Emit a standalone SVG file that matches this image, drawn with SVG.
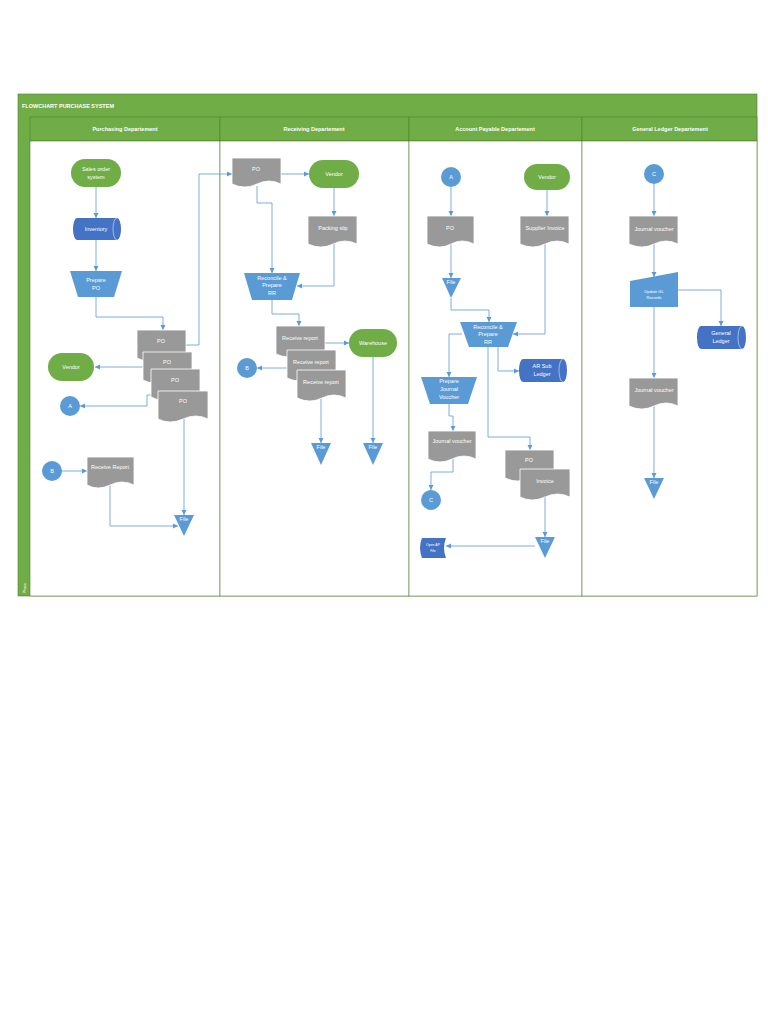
<svg xmlns="http://www.w3.org/2000/svg" width="768" height="1024" viewBox="0 0 768 1024">
<style>
text{font-family:"Liberation Sans",Arial,sans-serif;fill:#fff;font-size:5.5px;text-anchor:middle}
.h{font-size:5.5px;font-weight:bold}
.doc{fill:#999;stroke:#fff;stroke-width:0.8}
.term{fill:#70AD47}
.lb{fill:#5B9BD5}
.db{fill:#4472C4}
.c{fill:none;stroke:#5B9BD5;stroke-width:0.8;marker-end:url(#ar)}
.lane{fill:#fff;stroke:#507E32;stroke-width:0.6}
</style>
<defs>
<marker id="ar" markerWidth="6" markerHeight="6" refX="5" refY="3" orient="auto" markerUnits="userSpaceOnUse"><path d="M0,0.5 L5,3 L0,5.5z" fill="#5B9BD5"/></marker>
</defs>
<rect width="768" height="1024" fill="#fff"/>
<g id="frame">
<rect x="18" y="94" width="739" height="502" fill="#70AD47" stroke="#507E32" stroke-width="0.6"/>
<text x="22" y="108" class="h" style="text-anchor:start">FLOWCHART PURCHASE SYSTEM</text>
<rect x="30" y="117" width="190" height="24" fill="#70AD47" stroke="#507E32" stroke-width="0.6"/>
<rect x="220" y="117" width="189" height="24" fill="#70AD47" stroke="#507E32" stroke-width="0.6"/>
<rect x="409" y="117" width="173" height="24" fill="#70AD47" stroke="#507E32" stroke-width="0.6"/>
<rect x="582" y="117" width="175" height="24" fill="#70AD47" stroke="#507E32" stroke-width="0.6"/>
<text x="125" y="131" class="h">Purchasing Departement</text>
<text x="314" y="131" class="h">Receiving Departement</text>
<text x="495" y="131" class="h">Account Payable Departement</text>
<text x="670" y="131" class="h">General Ledger Departement</text>
<rect x="30" y="141" width="190" height="455" class="lane"/>
<rect x="220" y="141" width="189" height="455" class="lane"/>
<rect x="409" y="141" width="173" height="455" class="lane"/>
<rect x="582" y="141" width="175" height="455" class="lane"/>
<text x="0" y="0" transform="translate(26,593) rotate(-90)" style="font-size:3.5px;text-anchor:start">Phase</text>
</g>
<g id="connectors">
<path class="c" d="M96,187 V218"/>
<path class="c" d="M96,240 V271"/>
<path class="c" d="M96,297 V317 H163 V330"/>
<path class="c" d="M186,345 H199 V174 H232"/>
<path class="c" d="M143,367 H95"/>
<path class="c" d="M151,395 H147 V406 H80"/>
<path class="c" d="M184,418 V515"/>
<path class="c" d="M110,485 V526 H178"/>
<path class="c" d="M62,471 H87"/>
<path class="c" d="M281,174 H309"/>
<path class="c" d="M334,188 V216"/>
<path class="c" d="M257,186 V203 H272 V273"/>
<path class="c" d="M334,244 V286 H297"/>
<path class="c" d="M272,300 V314 H299 V326"/>
<path class="c" d="M325,343 H349"/>
<path class="c" d="M287,368 H257"/>
<path class="c" d="M321,398 V443"/>
<path class="c" d="M373,357 V443"/>
<path class="c" d="M451,187 V216"/>
<path class="c" d="M547,190 V216"/>
<path class="c" d="M451,244 V278"/>
<path class="c" d="M451,298 V310 H489 V322"/>
<path class="c" d="M545,244 V334 H513"/>
<path class="c" d="M462,334 H449 V377"/>
<path class="c" d="M498,346 V371 H519"/>
<path class="c" d="M488,346 V437 H530 V450"/>
<path class="c" d="M449,403 V416 H453 V431"/>
<path class="c" d="M453,458 V472 H431 V490"/>
<path class="c" d="M545,497 V537"/>
<path class="c" d="M535,546 H446"/>
<path class="c" d="M654,184 V216"/>
<path class="c" d="M654,244 V277"/>
<path class="c" d="M678,290 H721 V326"/>
<path class="c" d="M654,307 V378"/>
<path class="c" d="M654,406 V478"/>
</g>
<g id="sales"><rect x="71" y="159" width="50" height="28" rx="14" class="term"/><text x="96" y="171">Sales order</text><text x="96" y="179">system</text></g>
<g id="inventory"><path d="M77,218 H117 A4,11 0 0 1 117,240 H77 A4,11 0 0 1 77,218z" class="db"/><path d="M117,218 A4,11 0 0 0 117,240" fill="none" stroke="#fff" stroke-width="0.5"/><text x="96" y="231">Inventory</text></g>
<g id="preparePO"><path d="M70,271 H122 L114,297 H78z" class="lb"/><text x="96" y="282">Prepare</text><text x="96" y="290">PO</text></g>
<g id="po1"><path class="doc" d="M137,330 H186 V358 Q174,352 161,358 T137,358z"/><text x="161" y="343">PO</text></g>
<g id="po2"><path class="doc" d="M143,352 H192 V380 Q180,374 167,380 T143,380z"/><text x="167" y="364">PO</text></g>
<g id="po3"><path class="doc" d="M151,369 H200 V397 Q188,391 175,397 T151,397z"/><text x="175" y="382">PO</text></g>
<g id="po4"><path class="doc" d="M158,391 H208 V419 Q196,413 183,419 T158,419z"/><text x="183" y="403">PO</text></g>
<g id="vendor1"><rect x="48" y="353" width="46" height="28" rx="14" class="term"/><text x="71" y="369">Vendor</text></g>
<g id="a1"><circle cx="70" cy="406" r="10" class="lb"/><text x="70" y="408">A</text></g>
<g id="b1"><circle cx="52" cy="471" r="10" class="lb"/><text x="52" y="473">B</text></g>
<g id="rr1"><path class="doc" d="M87,457 H134 V485 Q122,479 110,485 T87,485z"/><text x="110" y="469" class="h" style="font-weight:normal">Receive Report</text></g>
<g id="file1"><path d="M174,515 H194 L184,536z" class="lb"/><text x="184" y="521">File</text></g>

<g id="poR"><path class="doc" d="M232,158 H281 V184 Q269,178 257,184 T232,184z"/><text x="256" y="171">PO</text></g>
<g id="vendor2"><rect x="309" y="160" width="50" height="28" rx="14" class="term"/><text x="334" y="176">Vendor</text></g>
<g id="packing"><path class="doc" d="M308,216 H357 V244 Q345,238 333,244 T308,244z"/><text x="333" y="230">Packing slip</text></g>
<g id="reconcileR"><path d="M244,273 H300 L292,300 H252z" class="lb"/><text x="272" y="280">Reconcile &amp;</text><text x="272" y="287">Prepare</text><text x="272" y="295">RR</text></g>
<g id="rrA"><path class="doc" d="M276,326 H325 V354 Q313,348 301,354 T276,354z"/><text x="300" y="340">Receive report</text></g>
<g id="rrB"><path class="doc" d="M287,350 H336 V378 Q324,372 312,378 T287,378z"/><text x="311" y="364">Receive report</text></g>
<g id="rrC"><path class="doc" d="M297,370 H346 V398 Q334,392 322,398 T297,398z"/><text x="321" y="384">Receive report</text></g>
<g id="warehouse"><rect x="349" y="329" width="48" height="28" rx="14" class="term"/><text x="373" y="345">Warehouse</text></g>
<g id="b2"><circle cx="247" cy="368" r="10" class="lb"/><text x="247" y="370">B</text></g>
<g id="file2"><path d="M311,443 H331 L321,465z" class="lb"/><text x="321" y="449">File</text></g>
<g id="file3"><path d="M363,443 H383 L373,465z" class="lb"/><text x="373" y="449">File</text></g>

<g id="a2"><circle cx="451" cy="177" r="10" class="lb"/><text x="451" y="179">A</text></g>
<g id="vendor3"><rect x="524" y="164" width="46" height="26" rx="13" class="term"/><text x="547" y="179">Vendor</text></g>
<g id="poAP"><path class="doc" d="M427,216 H474 V244 Q462,238 451,244 T427,244z"/><text x="450" y="230">PO</text></g>
<g id="supplier"><path class="doc" d="M520,216 H569 V244 Q557,238 545,244 T520,244z"/><text x="545" y="230">Supplier Invoice</text></g>
<g id="file4"><path d="M442,278 H461 L451,298z" class="lb"/><text x="451" y="284">File</text></g>
<g id="reconcileAP"><path d="M460,322 H517 L508,347 H469z" class="lb"/><text x="488" y="329">Reconcile &amp;</text><text x="488" y="336">Prepare</text><text x="488" y="344">RR</text></g>
<g id="arsub"><path d="M523,359 H563 A4,11.5 0 0 1 563,382 H523 A4,11.5 0 0 1 523,359z" class="db"/><path d="M563,359 A4,11.5 0 0 0 563,382" fill="none" stroke="#fff" stroke-width="0.5"/><text x="542" y="368">AR Sub</text><text x="542" y="376">Ledger</text></g>
<g id="pjv"><path d="M421,377 H477 L468,404 H430z" class="lb"/><text x="449" y="383">Prepare</text><text x="449" y="391">Journal</text><text x="449" y="399">Voucher</text></g>
<g id="jv1"><path class="doc" d="M428,431 H476 V459 Q464,453 452,459 T428,459z"/><text x="452" y="443">Journal voucher</text></g>
<g id="c1"><circle cx="431" cy="500" r="10" class="lb"/><text x="431" y="502">C</text></g>
<g id="poAP2"><path class="doc" d="M505,450 H554 V478 Q542,472 530,478 T505,478z"/><text x="529" y="462">PO</text></g>
<g id="invoice"><path class="doc" d="M520,469 H570 V497 Q558,491 545,497 T520,497z"/><text x="545" y="483">Invoice</text></g>
<g id="file5"><path d="M535,537 H555 L545,558z" class="lb"/><text x="545" y="543">File</text></g>
<g id="openap"><path d="M422,538 H446 Q442,548 446,558 H422 Q418,548 422,538z" class="db"/><text x="433" y="546" style="font-size:3.5px">Open AP</text><text x="433" y="552" style="font-size:3.5px">File</text></g>

<g id="c2"><circle cx="654" cy="174" r="10" class="lb"/><text x="654" y="176">C</text></g>
<g id="jv2"><path class="doc" d="M629,216 H678 V244 Q666,238 654,244 T629,244z"/><text x="654" y="231">Journal voucher</text></g>
<g id="update"><path d="M630,281 L678,272 V307 H630z" class="lb"/><text x="654" y="293" style="font-size:4px">Update GL</text><text x="654" y="299" style="font-size:4px">Records</text></g>
<g id="gl"><path d="M701,326 H742 A4,11.5 0 0 1 742,349 H701 A4,11.5 0 0 1 701,326z" class="db"/><path d="M742,326 A4,11.5 0 0 0 742,349" fill="none" stroke="#fff" stroke-width="0.5"/><text x="721" y="335">General</text><text x="721" y="343">Ledger</text></g>
<g id="jv3"><path class="doc" d="M629,378 H678 V406 Q666,400 654,406 T629,406z"/><text x="654" y="392">Journal voucher</text></g>
<g id="file6"><path d="M644,478 H664 L654,499z" class="lb"/><text x="654" y="484">File</text></g>
</svg>
